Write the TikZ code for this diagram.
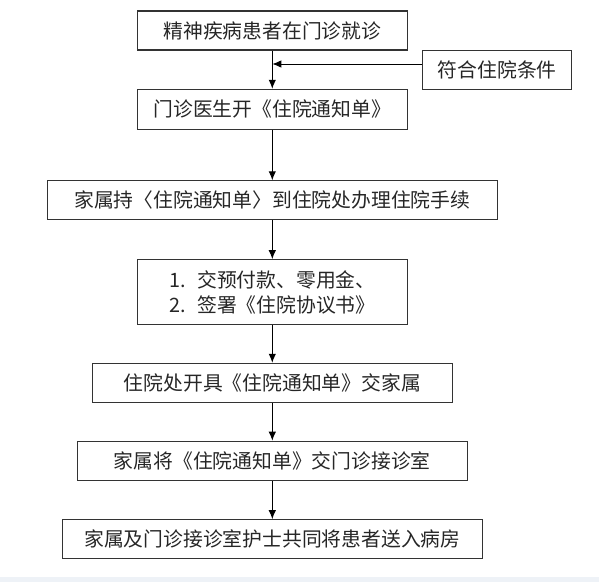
\documentclass[tikz,border=0pt]{standalone}
\usepackage{fontspec}
\setmainfont{Noto Sans CJK SC}
\usepackage{tikz}
\usetikzlibrary{arrows.meta,calc}
\usepackage{xcolor}
\definecolor{stripblue}{RGB}{238,242,247}

\begin{document}
\begin{tikzpicture}[
    x=1pt, y=-1pt,
    >={Latex[length=9pt,width=7.5pt]},
    box/.style={draw=black!80, line width=1.1pt, rectangle, minimum height=39pt,
        inner sep=0pt, font=\fontsize{19.8}{25}\selectfont, text=black!85},
    flow/.style={->, line width=1pt}
]
    \useasboundingbox (0,0) rectangle (599,582);

    % bottom strip
    \fill[stripblue] (0,577) rectangle (599,582);

    % Main steps
    \node[box, minimum width=270pt] (visit) at (272.3,30.5) {精神疾病患者在门诊就诊};
    \node[box, minimum width=149pt] (cond) at (497.3,70) {符合住院条件};
    \node[box, minimum width=270pt, minimum height=40pt] (notice) at (272.3,109.3) {门诊医生开《住院通知单》};
    \node[box, minimum width=450pt] (family) at (272.3,200.3) {家属持〈住院通知单〉到住院处办理住院手续\hspace{24pt}};
    \node[box, minimum width=270pt, minimum height=64.6pt, align=left] (pay) at (272.3,292)
        {1.\hspace{0.6em}交预付款、零用金、\\2.\hspace{0.6em}签署《住院协议书》};
    \node[box, minimum width=360pt] (issue) at (272.3,382.8) {住院处开具《住院通知单》交家属};
    \node[box, minimum width=390pt] (hand) at (272.3,460.7) {家属将《住院通知单》交门诊接诊室};
    \node[box, minimum width=420pt] (ward) at (272.3,539.2) {家属及门诊接诊室护士共同将患者送入病房};

    % Connectors
    \coordinate (join) at (272.3,64);
    \draw[flow] (visit) -- (notice);
    \draw[flow] (cond.west |- join) -- (join);
    \draw[flow] (notice) -- (family);
    \draw[flow] (family) -- (pay);
    \draw[flow] (pay) -- (issue);
    \draw[flow] (issue) -- (hand);
    \draw[flow] (hand) -- (ward);
\end{tikzpicture}
\end{document}
